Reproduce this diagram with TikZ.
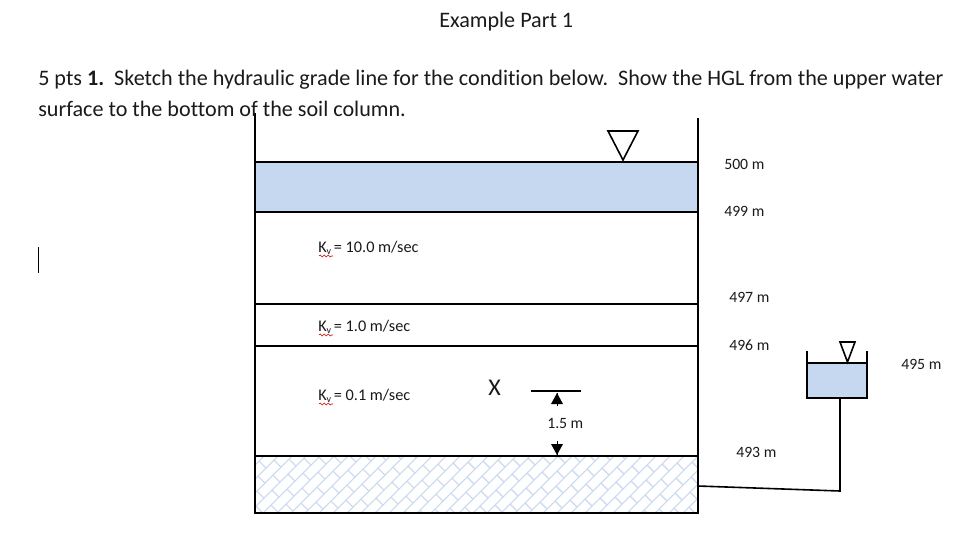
\documentclass[tikz,border=0pt]{standalone}
\usepackage{fontspec}
\setmainfont[Ligatures=CommonOff]{Carlito}
\usetikzlibrary{decorations.pathmorphing,arrows.meta}
\definecolor{water}{HTML}{C6D8F0}
\definecolor{hatch}{HTML}{CBD9EE}
\definecolor{ink}{HTML}{1A1A1A}
\tikzset{
  x=0.75pt,y=-0.75pt,
  wall/.style={draw=black,line width=1.5pt,line cap=rect},
  thinwall/.style={draw=black,line width=1.1pt},
  body/.style={inner sep=0pt,anchor=base west,text=ink,font=\fontsize{16.6}{18}\selectfont},
  small/.style={inner sep=0pt,anchor=base west,text=ink,font=\fontsize{11.8}{13}\selectfont},
  kvtext/.style={inner sep=0pt,anchor=base west,text=ink,font=\fontsize{12.2}{13}\selectfont},
  squig/.style={draw=red!80!black,line width=0.4pt,decorate,decoration={snake,amplitude=0.7pt,segment length=3pt}},
  tip/.style={fill=black,draw=none},
}
\newcommand{\kv}[3]{%
  \node[kvtext] (#1) at (318,#2) {K\raisebox{-1.5pt}{\fontsize{7.5}{8}\selectfont v}\,= #3};
  \coordinate (#1a) at (319,#2+4);
  \coordinate (#1b) at (333,#2+4);
  \draw[squig] (#1a) -- (#1b);
}
\begin{document}
\begin{tikzpicture}
\useasboundingbox (0,0) rectangle (971,540);
\fill[white] (0,0) rectangle (971,540);
% water
\fill[water] (255,162) rectangle (698,212);
\fill[water] (807,363) rectangle (867,398);
% soil hatch
\begin{scope}
\clip (255,456) rectangle (698,513);
\foreach \i in {4,...,42} {
  \draw[hatch,line width=0.8pt] (650+14*\i-520,520) -- (650+14*\i-450,450);
}
\foreach \i in {4,...,42} {
  \pgfmathtruncatemacro{\off}{8*mod(\i,2)}
  \foreach \j in {-1,...,16} {
    \draw[hatch,line width=0.8pt] (200+7*\i+16*\j+\off,450+7*\i-16*\j-\off) -- ++(7,7);
  }
}
\end{scope}
% walls and layers
\draw[wall] (255,114) -- (255,513) -- (698,513) -- (698,119);
\foreach \yy in {162,212,304,346,456} \draw[thinwall] (255,\yy) -- (698,\yy);
% triangle main
\coordinate (t1) at (608,131);
\coordinate (t2) at (638,131);
\coordinate (t3) at (623,160);
\draw[black,line width=1.2pt,line join=miter] (t1) -- (t2) -- (t3) -- cycle;
% tank
\coordinate (ta) at (807,351);
\coordinate (tb) at (807,398);
\coordinate (tc) at (867,398);
\coordinate (td) at (867,351);
\draw[wall,line width=1.3pt,line cap=butt] (ta) -- (tb) -- (tc) -- (td);
\draw[thinwall] (807,363) -- (867,363);
\coordinate (s1) at (840,342);
\coordinate (s2) at (855,342);
\coordinate (s3) at (847.5,362);
\draw[black,line width=1.2pt] (s1) -- (s2) -- (s3) -- cycle;
% pipe
\coordinate (p0) at (840,398);
\coordinate (p1) at (840,491);
\coordinate (p2) at (698,486);
\draw[black,line width=1.2pt] (p0) -- (p1) -- (p2);
% X water level marker
\coordinate (m1) at (531,391);
\coordinate (m2) at (581,391);
\draw[black,line width=1.1pt] (m1) -- (m2);
\coordinate (u1) at (557,393);
\coordinate (u2) at (557,406);
\fill[tip] (557,393) -- (563,404) -- (551,404) -- cycle;
\draw[black,line width=0.7pt] (u1) -- (u2);
\fill[tip] (557,455) -- (563,444) -- (551,444) -- cycle;
\coordinate (d1) at (557,441);
\coordinate (d2) at (557,455);
\draw[black,line width=0.7pt] (d1) -- (d2);
% text
\node[body] (title) at (439,27) {Example Part 1};
\node[body] (l1) at (38,85) {5 pts \textbf{1.}\ \ Sketch the hydraulic grade line for the condition below.\ \ Show the HGL from the upper water};
\node[body] (l2) at (38,116) {surface to the bottom of the soil column.};
\kv{k1}{252}{10.0 m/sec}
\kv{k2}{331}{1.0 m/sec}
\kv{k3}{400}{0.1 m/sec}
\node[inner sep=0pt,anchor=base west,text=ink,font=\fontsize{18}{19}\selectfont] (x) at (488,395) {X};
\node[small] (h) at (547,428) {1.5 m};
\node[small] (e500) at (724,169) {500 m};
\node[small] (e499) at (724,216) {499 m};
\node[small] (e497) at (729,302) {497 m};
\node[small] (e496) at (729,350) {496 m};
\node[small] (e495) at (901,369) {495 m};
\node[small] (e493) at (736,457) {493 m};
% cursor
\coordinate (c1) at (38.5,247);
\coordinate (c2) at (38.5,273);
\draw[black,line width=0.6pt] (c1) -- (c2);
\end{tikzpicture}
\end{document}
